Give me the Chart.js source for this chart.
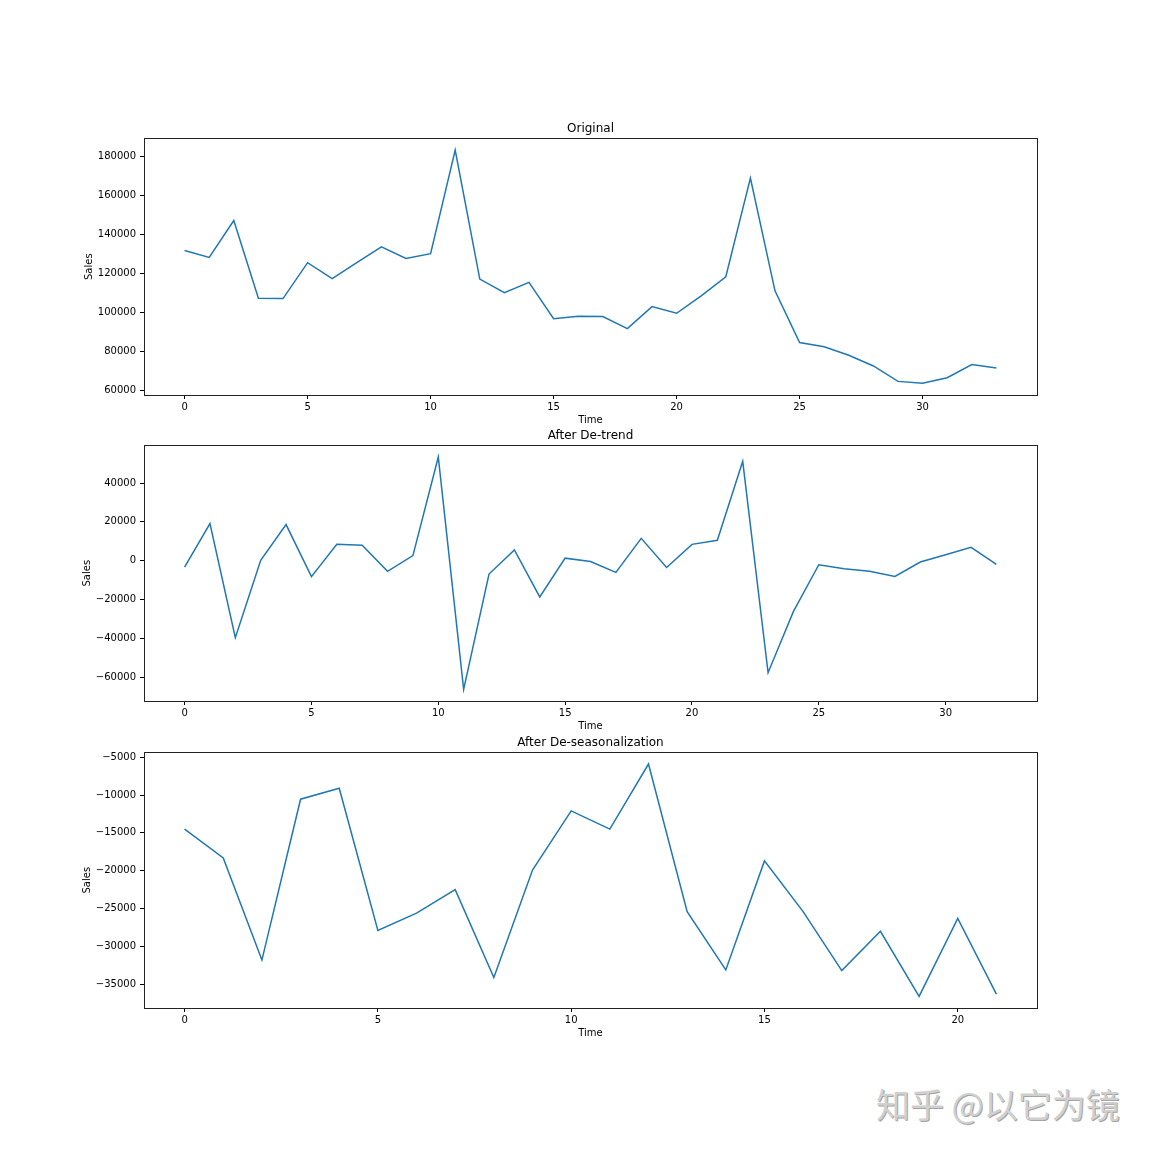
<!DOCTYPE html>
<html lang="en">
<head>
    <meta charset="UTF-8">
    <title>Sales decomposition</title>
    <script src="https://cdn.jsdelivr.net/npm/chart.js"></script>
    <style>
        body {
            margin: 0;
            background: #fff;
            width: 1152px;
            height: 1152px;
            position: relative;
            overflow: hidden;
        }
        canvas {
            position: absolute;
            left: 0;
        }
        .watermark {
            position: absolute;
            left: 876px;
            top: 1083px;
            font-family: "Noto Sans CJK SC", sans-serif;
            font-size: 34px;
            line-height: 42px;
            color: #d0d0d0;
            text-shadow: 1px 1px 0 #a4a4a4;
            white-space: nowrap;
        }
    </style>
</head>
<body>

<canvas id="chartOriginal" width="1152" height="306" style="top:120px"></canvas>
<canvas id="chartDetrend" width="1152" height="305" style="top:427px"></canvas>
<canvas id="chartDeseason" width="1152" height="305" style="top:734px"></canvas>

<div class="watermark">知乎 @以它为镜</div>

<script>
// Series values
const originalSales = [
    131600, 128100, 147000, 107200, 107000, 125400, 117200, 125500, 133500, 127600,
    130000, 183100, 117000, 110000, 115300, 96700, 98000, 97800, 91600, 102900,
    99500, 108400, 118200, 168800, 111000, 84500, 82300, 78000, 72500, 64600,
    63600, 66500, 73200, 71500
];
const detrendSales = [
    -3300, 19100, -39700, 200, 18600, -8200, 8400, 8000, -5500, 2600,
    53400, -66300, -6900, 5500, -18700, 1300, -400, -6000, 11500, -3500,
    8400, 10500, 51200, -57700, -26100, -2100, -4100, -5500, -8100, -700,
    3100, 6900, -1900
];
const deseasonSales = [
    -14500, -18300, -31800, -10550, -9100, -27900, -25600, -22500, -34100, -19900,
    -12100, -14500, -5900, -25400, -33100, -18700, -25400, -33200, -28000, -36600,
    -26300, -36300
];

// Titles and tick labels
const chartTitles = ['Original', 'After De-trend', 'After De-seasonalization'];
const originalYTicks = [60000, 80000, 100000, 120000, 140000, 160000, 180000];
const detrendYTicks = [-60000, -40000, -20000, 0, 20000, 40000];
const deseasonYTicks = [-35000, -30000, -25000, -20000, -15000, -10000, -5000];
const longXTicks = [0, 5, 10, 15, 20, 25, 30];
const shortXTicks = [0, 5, 10, 15, 20];

Chart.defaults.font.family = 'DejaVu Sans';
Chart.defaults.font.size = 10;
Chart.defaults.color = '#000';

// Draws the four-sided axes frame like matplotlib spines
const framePlugin = {
    id: 'frame',
    afterDraw(chart) {
        const a = chart.chartArea;
        const ctx = chart.ctx;
        ctx.save();
        ctx.strokeStyle = '#222';
        ctx.lineWidth = 1;
        ctx.strokeRect(Math.round(a.left) + 0.5, Math.round(a.top) + 0.5,
            Math.round(a.right - a.left), Math.round(a.bottom - a.top));
        ctx.restore();
    }
};

function fmtTick(v) {
    return v < 0 ? '\u2212' + Math.abs(v) : String(v);
}

function makeChart(canvasId, values, title, xTicks, yTicks, ylabelPad) {
    const lo = Math.min(...values), hi = Math.max(...values);
    const yPad = (hi - lo) * 0.05;
    const xPad = (values.length - 1) * 0.05;

    new Chart(document.getElementById(canvasId), {
        type: 'line',
        data: {
            datasets: [{
                data: values.map((v, i) => ({ x: i, y: v })),
                borderColor: '#1f77b4',
                borderWidth: 1.5,
                pointRadius: 0,
                tension: 0,
                fill: false
            }]
        },
        options: {
            responsive: false,
            animation: false,
            layout: { padding: { left: 0, right: 115, top: 0, bottom: 0 } },
            plugins: {
                legend: { display: false },
                tooltip: { enabled: false },
                title: {
                    display: true,
                    text: title,
                    fullSize: false,
                    font: { size: 12, weight: 'normal' },
                    color: '#000',
                    padding: { top: 2, bottom: 2 }
                }
            },
            scales: {
                x: {
                    type: 'linear',
                    min: -xPad,
                    max: values.length - 1 + xPad,
                    grid: { drawOnChartArea: false, drawTicks: true, tickLength: 4, color: '#000' },
                    border: { display: false },
                    ticks: { padding: 2, maxRotation: 0, autoSkip: false, callback: fmtTick },
                    afterBuildTicks: s => { s.ticks = xTicks.map(v => ({ value: v })); },
                    title: { display: true, text: 'Time', padding: { top: 0, bottom: 0 } },
                    afterFit: s => { s.height = 31; }
                },
                y: {
                    type: 'linear',
                    min: lo - yPad,
                    max: hi + yPad,
                    grid: { drawOnChartArea: false, drawTicks: true, tickLength: 4, color: '#000' },
                    border: { display: false },
                    ticks: { padding: 4, autoSkip: false, callback: fmtTick },
                    afterBuildTicks: s => { s.ticks = yTicks.map(v => ({ value: v })); },
                    title: { display: true, text: 'Sales', padding: { top: ylabelPad, bottom: 0 } },
                    afterFit: s => { s.width = 144; }
                }
            }
        },
        plugins: [framePlugin]
    });
}

makeChart('chartOriginal', originalSales, chartTitles[0], longXTicks, originalYTicks, 83);
makeChart('chartDetrend', detrendSales, chartTitles[1], longXTicks, detrendYTicks, 81);
makeChart('chartDeseason', deseasonSales, chartTitles[2], shortXTicks, deseasonYTicks, 81);
</script>
</body>
</html>
